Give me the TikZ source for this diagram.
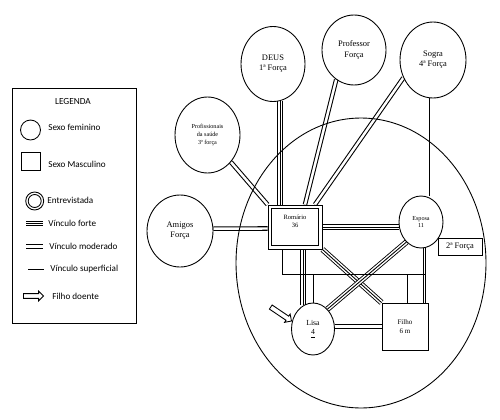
\documentclass[tikz,border=0pt]{standalone}
\usepackage{fontspec}
\setmainfont{Liberation Serif}
\newfontfamily\legfont{Carlito}
\usetikzlibrary{shapes.geometric,shapes.arrows,backgrounds}
\begin{document}
\begin{tikzpicture}[x=0.02cm,y=-0.02cm,
  every node/.style={inner sep=0pt},
  elipse/.style={ellipse,draw,line width=0.5pt,align=center},
  caixa/.style={rectangle,draw,line width=0.5pt,align=center},
  forte/.style={line width=3.2pt,draw=black,postaction={draw=white,line width=2.2pt},postaction={draw=black,line width=0.5pt}},
  moderado/.style={line width=2.6pt,draw=black,postaction={draw=white,line width=1.4pt}},
  superficial/.style={draw,line width=0.5pt},
  seta/.style={single arrow,draw,line width=0.5pt,inner sep=1.1pt,single arrow head extend=1.4pt},
  rotulo/.style={font=\fontsize{4.8}{5.8}\selectfont},
  pequeno/.style={font=\fontsize{3.7}{4.6}\selectfont},
  legtexto/.style={font=\legfont\fontsize{5.2}{6}\selectfont,anchor=west}]
\useasboundingbox (0,0) rectangle (500,419);

% legend
\node[caixa,minimum width=2.48cm,minimum height=4.7cm] (legenda) at (74,205.5) {};
\node[font=\legfont\fontsize{5.3}{6}\selectfont] (tleg) at (73,102) {LEGENDA};
\node[circle,draw,line width=0.5pt,minimum size=0.4cm] (lfem) at (30.5,130) {};
\node[legtexto] (tfem) at (48,127.5) {Sexo feminino};
\node[rectangle,draw,line width=0.5pt,minimum width=0.38cm,minimum height=0.36cm] (lmasc) at (30.5,161) {};
\node[legtexto] (tmasc) at (48,164) {Sexo Masculino};
\node[circle,draw,line width=0.5pt,minimum size=0.36cm] (lentr) at (34.7,201) {};
\draw[line width=0.5pt] (lentr.center) circle[radius=0.13cm];
\node[legtexto] (tentr) at (47,200) {Entrevistada};
\coordinate (lf1) at (26,223.5); \coordinate (lf2) at (43,223.5);
\draw[forte] (lf1) -- (lf2);
\node[legtexto] (tforte) at (48,223) {Vínculo forte};
\coordinate (lm1) at (26,246.5); \coordinate (lm2) at (43,246.5);
\draw[moderado] (lm1) -- (lm2);
\node[legtexto] (tmod) at (49,246.5) {Vínculo moderado};
\coordinate (ls1) at (28,269.5); \coordinate (ls2) at (44,269.5);
\draw[superficial] (ls1) -- (ls2);
\node[legtexto] (tsup) at (50,269.5) {Vínculo superficial};
\node[seta,minimum height=0.4cm,minimum width=0.18cm,anchor=tail] (lseta) at (23,296) {};
\node[legtexto] (tdoente) at (52,296) {Filho doente};

% network
\node[elipse,minimum width=5cm,minimum height=5.8cm] (familia) at (361,263) {};
\node[elipse,minimum width=1.28cm,minimum height=1.5cm,rotulo] (deus) at (273,64) {DEUS\\1ª Força};
\node[elipse,minimum width=1.3cm,minimum height=1.52cm,font=\fontsize{3.5}{4.3}\selectfont] (saude) at (207.5,135) {Profissionais\\da saúde\\3ª força};
\node[elipse,minimum width=1.28cm,minimum height=1.4cm,rotulo] (professor) at (354,50) {Professor\\Força};
\node[elipse,minimum width=1.32cm,minimum height=1.52cm,rotulo] (sogra) at (433,60) {Sogra\\4ª Força};
\node[elipse,minimum width=1.32cm,minimum height=1.44cm,rotulo] (amigos) at (180,231) {Amigos\\Força};
\node[caixa,minimum width=1.08cm,minimum height=0.88cm,pequeno] (romario) at (295,227) {Romário\\36\\[2pt]};
\draw[line width=0.5pt] ([xshift=0.08cm,yshift=-0.08cm]romario.north west) rectangle ([xshift=-0.08cm,yshift=0.08cm]romario.south east);
\node[elipse,minimum width=0.88cm,minimum height=1.04cm,font=\fontsize{3.5}{4.4}\selectfont] (esposa) at (421,222) {Esposa\\11};
\node[elipse,minimum width=0.86cm,minimum height=1.04cm,font=\fontsize{4.4}{5.4}\selectfont] (lisa) at (313,329) {Lisa\\\underline{4}};
\node[caixa,minimum width=0.92cm,minimum height=0.94cm,font=\fontsize{4}{5}\selectfont] (filho) at (405,326.5) {Filho\\6 m};
\node[caixa,minimum width=0.88cm,minimum height=0.34cm,rotulo] (forca) at (460,246.5) {2ª Força};
\node[seta,minimum height=0.5cm,minimum width=0.2cm,rotate=-34,anchor=tip] (setalisa) at (lisa.160) {};

\begin{pgfonlayer}{background}
\draw[forte] (deus.-79) -- (deus.-79 |- romario.north);
\draw[moderado] (saude) -- (romario.north west);
\draw[moderado] (professor.-121) -- ([xshift=0.2cm]romario.north);
\draw[moderado] (sogra.-149) -- ([xshift=0.4cm]romario.north);
\draw[superficial] (sogra.-95) -- (sogra.-95 |- esposa.north);
\draw[moderado] (amigos.4) -- ([yshift=-0.03cm]romario.west);
\draw[forte] (romario.east) -- (romario.east -| esposa.west);
\draw[forte] ([xshift=0.16cm]romario.south) -- ([xshift=0.16cm]romario.south |- lisa.110);
\draw[forte] (esposa.-80) -- (esposa.-80 |- filho.north);
\draw[forte] (romario.south east) -- (filho.north west);
\draw[forte] (esposa.-126) -- (lisa.54);
\draw[moderado] (filho.west) -- (filho.west -| lisa.east);
\coordinate (uniao) at (0,274);
\draw[superficial] ([xshift=-0.26cm]romario.south) |- (uniao -| esposa.-80);
\draw[superficial] (uniao -| lisa.north) -- (lisa.north);
\draw[superficial] ([xshift=0.04cm]uniao -| filho.north) -- ([xshift=0.04cm]filho.north);
\end{pgfonlayer}
\end{tikzpicture}
\end{document}
